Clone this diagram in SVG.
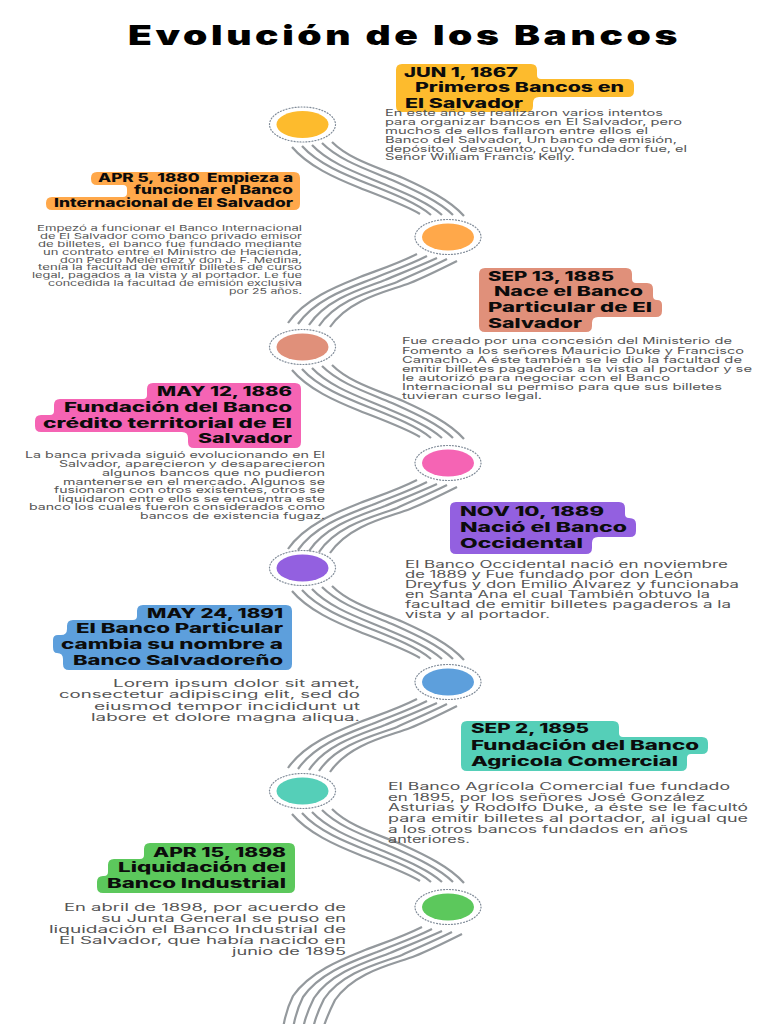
<svg xmlns="http://www.w3.org/2000/svg" xmlns:xlink="http://www.w3.org/1999/xlink" width="768" height="1024" viewBox="0 0 768 1024">
<style>
text{font-family:"Inter","DejaVu Sans",sans-serif}
.title{font-size:27px;font-weight:900;fill:#000;letter-spacing:2.5px}
.h{font-size:13px;font-weight:800;fill:#0c0c0c}
.hs{font-size:11.5px;font-weight:800;fill:#0c0c0c}
.b{font-size:8.8px;fill:#555}
.bs{font-size:7.6px;fill:#555}
.bl{font-size:9.9px;fill:#555}
.ring{fill:none;stroke:#7f8a97;stroke-width:1.2;stroke-dasharray:1 2;stroke-linecap:round}
.s{fill:none;stroke:#94999d;stroke-width:2.2}
</style>
<defs>
<g id="ribR">
<path class="s" d="M292 147C308 166 335 178 360 188C380 196 405 205 420 214"/>
<path class="s" d="M302 146C318 164 346 175 371 185C391 193 417 203 431 215"/>
<path class="s" d="M312 145C329 163 357 173 381 183C402 192 428 202 442 215"/>
<path class="s" d="M322 143C340 161 369 170 392 180C414 190 439 201 453 215"/>
<path class="s" d="M332 142C350 160 380 168 403 178C425 188 450 200 464 216"/>
</g>
<g id="ribL">
<path class="s" d="M417 254C395 265 378 270 360 277C340 285 305 298 288 323"/>
<path class="s" d="M427 256C405 267 388 272 372 279C352 287 316 298 298 324"/>
<path class="s" d="M437 258C415 268 399 274 385 280C365 288 327 298 309 325"/>
<path class="s" d="M447 259C425 270 409 276 397 282C377 290 338 298 319 326"/>
<path class="s" d="M457 261C435 272 420 279 410 283C390 291 350 298 330 327"/>
</g>
</defs>
<rect width="768" height="1024" fill="#fff"/>
<text class="title" x="128" y="45" textLength="553" lengthAdjust="spacingAndGlyphs">Evolución de los Bancos</text>
<g id="connectors">
<use xlink:href="#ribR" href="#ribR"/>
<use xlink:href="#ribL" href="#ribL"/>
<use xlink:href="#ribR" href="#ribR" y="223"/>
<use xlink:href="#ribL" href="#ribL" y="226"/>
<use xlink:href="#ribR" href="#ribR" y="444"/>
<use xlink:href="#ribL" href="#ribL" y="445"/>
<use xlink:href="#ribR" href="#ribR" y="667"/>
<g id="ribbon-bottom" transform="translate(5 673)">
<path class="s" d="M417 254C395 265 378 270 360 277C340 285 305 298 288 323C284 331 280 342 278 356"/>
<path class="s" d="M427 256C405 267 388 272 372 279C352 287 316 298 298 324C294 332 290 343 288 356"/>
<path class="s" d="M437 258C415 268 399 274 385 280C365 288 327 298 309 325C305 333 300 344 298 356"/>
<path class="s" d="M447 259C425 270 409 276 397 282C377 290 338 298 319 326C315 334 310 345 308 356"/>
<path class="s" d="M457 261C435 272 420 279 410 283C390 291 350 298 330 327C326 335 321 346 318 356"/>
</g>
</g>
<g id="node-1867">
<ellipse class="ring" cx="302.5" cy="124.5" rx="33" ry="17.5"/><ellipse cx="302.5" cy="124.5" rx="26" ry="13.5" fill="#FDBB2D"/>
<path fill="#FDBB2D" d="M402 64H531Q537 64 537 70V75Q537 79 541 79H628Q634 79 634 85V91Q634 97 628 97H539Q533 97 533 103V106Q533 112 527 112H402Q396 112 396 106V70Q396 64 402 64Z"/>
<text class="h" x="404" y="77" textLength="114" lengthAdjust="spacingAndGlyphs">JUN 1, 1867</text>
<text class="h" x="415" y="92" textLength="209" lengthAdjust="spacingAndGlyphs">Primeros Bancos en</text>
<text class="h" x="405" y="108" textLength="118" lengthAdjust="spacingAndGlyphs">El Salvador</text>
<text class="b" x="385" y="116" textLength="278" lengthAdjust="spacingAndGlyphs">En este año se realizaron varios intentos</text>
<text class="b" x="385" y="125" textLength="297" lengthAdjust="spacingAndGlyphs">para organizar bancos en El Salvador, pero</text>
<text class="b" x="385" y="134" textLength="263" lengthAdjust="spacingAndGlyphs">muchos de ellos fallaron entre ellos el</text>
<text class="b" x="385" y="143" textLength="292" lengthAdjust="spacingAndGlyphs">Banco del Salvador, Un banco de emisión,</text>
<text class="b" x="385" y="152" textLength="302" lengthAdjust="spacingAndGlyphs">depósito y descuento, cuyo fundador fue, el</text>
<text class="b" x="385" y="160" textLength="190" lengthAdjust="spacingAndGlyphs">Señor William Francis Kelly.</text>
</g>
<g id="node-1880">
<ellipse class="ring" cx="448" cy="237" rx="33" ry="17.5"/><ellipse cx="448" cy="237" rx="26" ry="13.5" fill="#FFA84A"/>
<path fill="#FFA84A" d="M97 172H294Q300 172 300 178V204Q300 210 294 210H52Q46 210 46 204V203Q46 197 52 197H123Q127 197 127 193V189Q127 185 123 185H97Q91 185 91 179V178Q91 172 97 172Z"/>
<text class="hs" xml:space="preserve" x="98" y="182" textLength="195" lengthAdjust="spacingAndGlyphs">APR 5, 1880  Empieza a</text>
<text class="hs" x="134" y="194" textLength="159" lengthAdjust="spacingAndGlyphs">funcionar el Banco</text>
<text class="hs" x="54" y="207" textLength="239" lengthAdjust="spacingAndGlyphs">Internacional de El Salvador</text>
<text class="bs" x="37" y="231" textLength="265" lengthAdjust="spacingAndGlyphs">Empezó a funcionar el Banco Internacional</text>
<text class="bs" x="40" y="239" textLength="262" lengthAdjust="spacingAndGlyphs">de El Salvador como banco privado emisor</text>
<text class="bs" x="38" y="247" textLength="264" lengthAdjust="spacingAndGlyphs">de billetes, el banco fue fundado mediante</text>
<text class="bs" x="43" y="255" textLength="259" lengthAdjust="spacingAndGlyphs">un contrato entre el Ministro de Hacienda,</text>
<text class="bs" x="60" y="262.5" textLength="242" lengthAdjust="spacingAndGlyphs">don Pedro Meléndez y don J. F. Medina,</text>
<text class="bs" x="38" y="270" textLength="264" lengthAdjust="spacingAndGlyphs">tenía la facultad de emitir billetes de curso</text>
<text class="bs" x="32" y="278" textLength="270" lengthAdjust="spacingAndGlyphs">legal, pagados a la vista y al portador. Le fue</text>
<text class="bs" x="48" y="286" textLength="254" lengthAdjust="spacingAndGlyphs">concedida la facultad de emisión exclusiva</text>
<text class="bs" x="229" y="294" textLength="73" lengthAdjust="spacingAndGlyphs">por 25 años.</text>
</g>
<g id="node-1885">
<ellipse class="ring" cx="302.5" cy="347" rx="33" ry="17.5"/><ellipse cx="302.5" cy="347" rx="26" ry="13.5" fill="#E0907A"/>
<path fill="#E0907A" d="M485 268H626Q632 268 632 274V279Q632 283 636 283H647Q653 283 653 289V296Q653 300 657 300Q662 300 662 305V311Q662 317 656 317H598Q592 317 592 323V326Q592 332 586 332H485Q479 332 479 326V274Q479 268 485 268Z"/>
<text class="h" x="488" y="281" textLength="126" lengthAdjust="spacingAndGlyphs">SEP 13, 1885</text>
<text class="h" x="494" y="296" textLength="149" lengthAdjust="spacingAndGlyphs">Nace el Banco</text>
<text class="h" x="488" y="312" textLength="164" lengthAdjust="spacingAndGlyphs">Particular de El</text>
<text class="h" x="488" y="328" textLength="94" lengthAdjust="spacingAndGlyphs">Salvador</text>
<text class="b" x="402" y="344" textLength="330" lengthAdjust="spacingAndGlyphs">Fue creado por una concesión del Ministerio de</text>
<text class="b" x="402" y="354" textLength="342" lengthAdjust="spacingAndGlyphs">Fomento a los señores Mauricio Duke y Francisco</text>
<text class="b" x="402" y="363" textLength="340" lengthAdjust="spacingAndGlyphs">Camacho. A éste también se le dio la facultad de</text>
<text class="b" x="402" y="372" textLength="350" lengthAdjust="spacingAndGlyphs">emitir billetes pagaderos a la vista al portador y se</text>
<text class="b" x="402" y="381" textLength="268" lengthAdjust="spacingAndGlyphs">le autorizó para negociar con el Banco</text>
<text class="b" x="402" y="390" textLength="320" lengthAdjust="spacingAndGlyphs">Internacional su permiso para que sus billetes</text>
<text class="b" x="402" y="399" textLength="140" lengthAdjust="spacingAndGlyphs">tuvieran curso legal.</text>
</g>
<g id="node-1886">
<ellipse class="ring" cx="448" cy="463" rx="33" ry="17.5"/><ellipse cx="448" cy="463" rx="26" ry="13.5" fill="#F564B4"/>
<path fill="#F564B4" d="M153 383H295Q301 383 301 389V442Q301 448 295 448H194Q188 448 188 442V438Q188 432 182 432H41Q35 432 35 426V421Q35 415 41 415H50Q54 415 54 411V405Q54 399 60 399H143Q147 399 147 395V389Q147 383 153 383Z"/>
<text class="h" x="157" y="396" textLength="135" lengthAdjust="spacingAndGlyphs">MAY 12, 1886</text>
<text class="h" x="64" y="412" textLength="228" lengthAdjust="spacingAndGlyphs">Fundación del Banco</text>
<text class="h" x="43" y="428" textLength="249" lengthAdjust="spacingAndGlyphs">crédito territorial de El</text>
<text class="h" x="198" y="443" textLength="94" lengthAdjust="spacingAndGlyphs">Salvador</text>
<text class="b" x="25" y="458" textLength="300" lengthAdjust="spacingAndGlyphs">La banca privada siguió evolucionando en El</text>
<text class="b" x="59" y="467" textLength="266" lengthAdjust="spacingAndGlyphs">Salvador, aparecieron y desaparecieron</text>
<text class="b" x="102" y="476" textLength="223" lengthAdjust="spacingAndGlyphs">algunos bancos que no pudieron</text>
<text class="b" x="63" y="485" textLength="262" lengthAdjust="spacingAndGlyphs">mantenerse en el mercado. Algunos se</text>
<text class="b" x="54" y="493" textLength="271" lengthAdjust="spacingAndGlyphs">fusionaron con otros existentes, otros se</text>
<text class="b" x="58" y="502" textLength="267" lengthAdjust="spacingAndGlyphs">liquidaron entre ellos se encuentra este</text>
<text class="b" x="29" y="510" textLength="296" lengthAdjust="spacingAndGlyphs">banco los cuales fueron considerados como</text>
<text class="b" x="140" y="519" textLength="185" lengthAdjust="spacingAndGlyphs">bancos de existencia fugaz.</text>
</g>
<g id="node-1889">
<ellipse class="ring" cx="302.5" cy="568" rx="33" ry="17.5"/><ellipse cx="302.5" cy="568" rx="26" ry="13.5" fill="#9360E0"/>
<path fill="#9360E0" d="M456 502H619Q625 502 625 508V514Q625 518 629 518Q636 518 636 524V531Q636 537 630 537H598Q592 537 592 543V548Q592 554 586 554H456Q450 554 450 548V508Q450 502 456 502Z"/>
<text class="h" x="460" y="516" textLength="144" lengthAdjust="spacingAndGlyphs">NOV 10, 1889</text>
<text class="h" x="460" y="532" textLength="167" lengthAdjust="spacingAndGlyphs">Nació el Banco</text>
<text class="h" x="460" y="548" textLength="123" lengthAdjust="spacingAndGlyphs">Occidental</text>
<text class="bl" x="405" y="568" textLength="323" lengthAdjust="spacingAndGlyphs">El Banco Occidental nació en noviembre</text>
<text class="bl" x="405" y="578" textLength="288" lengthAdjust="spacingAndGlyphs">de 1889 y Fue fundado por don León</text>
<text class="bl" x="405" y="588" textLength="334" lengthAdjust="spacingAndGlyphs">Dreyfus y don Emilio Álvarez y funcionaba</text>
<text class="bl" x="405" y="598" textLength="305" lengthAdjust="spacingAndGlyphs">en Santa Ana el cual También obtuvo la</text>
<text class="bl" x="405" y="608" textLength="326" lengthAdjust="spacingAndGlyphs">facultad de emitir billetes pagaderos a la</text>
<text class="bl" x="405" y="618" textLength="145" lengthAdjust="spacingAndGlyphs">vista y al portador.</text>
</g>
<g id="node-1891">
<ellipse class="ring" cx="448" cy="682" rx="33" ry="17.5"/><ellipse cx="448" cy="682" rx="26" ry="13.5" fill="#5D9FDC"/>
<path fill="#5D9FDC" d="M143 605H286Q292 605 292 611V664Q292 670 286 670H69Q63 670 63 664V659Q63 653 57 653Q53 653 53 647V640Q53 635 58 635H61Q67 635 67 629V626Q67 620 73 620H133Q137 620 137 616V611Q137 605 143 605Z"/>
<text class="h" x="147" y="618" textLength="136" lengthAdjust="spacingAndGlyphs">MAY 24, 1891</text>
<text class="h" x="76" y="633" textLength="207" lengthAdjust="spacingAndGlyphs">El Banco Particular</text>
<text class="h" x="61" y="649" textLength="222" lengthAdjust="spacingAndGlyphs">cambia su nombre a</text>
<text class="h" x="73" y="665" textLength="210" lengthAdjust="spacingAndGlyphs">Banco Salvadoreño</text>
<text class="bl" x="113" y="687" textLength="247" lengthAdjust="spacingAndGlyphs">Lorem ipsum dolor sit amet,</text>
<text class="bl" x="59" y="698" textLength="301" lengthAdjust="spacingAndGlyphs">consectetur adipiscing elit, sed do</text>
<text class="bl" x="94" y="710" textLength="266" lengthAdjust="spacingAndGlyphs">eiusmod tempor incididunt ut</text>
<text class="bl" x="91" y="721" textLength="269" lengthAdjust="spacingAndGlyphs">labore et dolore magna aliqua.</text>
</g>
<g id="node-1895">
<ellipse class="ring" cx="302.5" cy="791" rx="33" ry="17.5"/><ellipse cx="302.5" cy="791" rx="26" ry="13.5" fill="#55CFB8"/>
<path fill="#55CFB8" d="M467 721H613Q619 721 619 727V733Q619 737 623 737H702Q708 737 708 743V748Q708 754 702 754H691Q687 754 687 758V765Q687 771 681 771H467Q461 771 461 765V727Q461 721 467 721Z"/>
<text class="h" x="471" y="733" textLength="118" lengthAdjust="spacingAndGlyphs">SEP 2, 1895</text>
<text class="h" x="471" y="750" textLength="228" lengthAdjust="spacingAndGlyphs">Fundación del Banco</text>
<text class="h" x="471" y="766" textLength="207" lengthAdjust="spacingAndGlyphs">Agricola Comercial</text>
<text class="bl" x="388" y="790" textLength="342" lengthAdjust="spacingAndGlyphs">El Banco Agrícola Comercial fue fundado</text>
<text class="bl" x="388" y="801" textLength="317" lengthAdjust="spacingAndGlyphs">en 1895, por los señores José González</text>
<text class="bl" x="388" y="811" textLength="360" lengthAdjust="spacingAndGlyphs">Asturias y Rodolfo Duke, a éste se le facultó</text>
<text class="bl" x="388" y="822" textLength="360" lengthAdjust="spacingAndGlyphs">para emitir billetes al portador, al igual que</text>
<text class="bl" x="388" y="833" textLength="300" lengthAdjust="spacingAndGlyphs">a los otros bancos fundados en años</text>
<text class="bl" x="388" y="843" textLength="82" lengthAdjust="spacingAndGlyphs">anteriores.</text>
</g>
<g id="node-1898">
<ellipse class="ring" cx="448" cy="907" rx="33" ry="17.5"/><ellipse cx="448" cy="907" rx="26" ry="13.5" fill="#5CC85C"/>
<path fill="#5CC85C" d="M150 843H289Q295 843 295 849V887Q295 893 289 893H103Q97 893 97 887V882Q97 876 103 876H104Q108 876 108 872V865Q108 859 114 859H140Q144 859 144 855V849Q144 843 150 843Z"/>
<text class="h" x="153" y="857" textLength="133" lengthAdjust="spacingAndGlyphs">APR 15, 1898</text>
<text class="h" x="118" y="872" textLength="168" lengthAdjust="spacingAndGlyphs">Liquidación del</text>
<text class="h" x="107" y="888" textLength="179" lengthAdjust="spacingAndGlyphs">Banco Industrial</text>
<text class="bl" x="64" y="911" textLength="282" lengthAdjust="spacingAndGlyphs">En abril de 1898, por acuerdo de</text>
<text class="bl" x="101" y="922" textLength="245" lengthAdjust="spacingAndGlyphs">su Junta General se puso en</text>
<text class="bl" x="49" y="933" textLength="297" lengthAdjust="spacingAndGlyphs">liquidación el Banco Industrial de</text>
<text class="bl" x="59" y="944" textLength="287" lengthAdjust="spacingAndGlyphs">El Salvador, que había nacido en</text>
<text class="bl" x="232" y="955" textLength="114" lengthAdjust="spacingAndGlyphs">junio de 1895</text>
</g>
</svg>
